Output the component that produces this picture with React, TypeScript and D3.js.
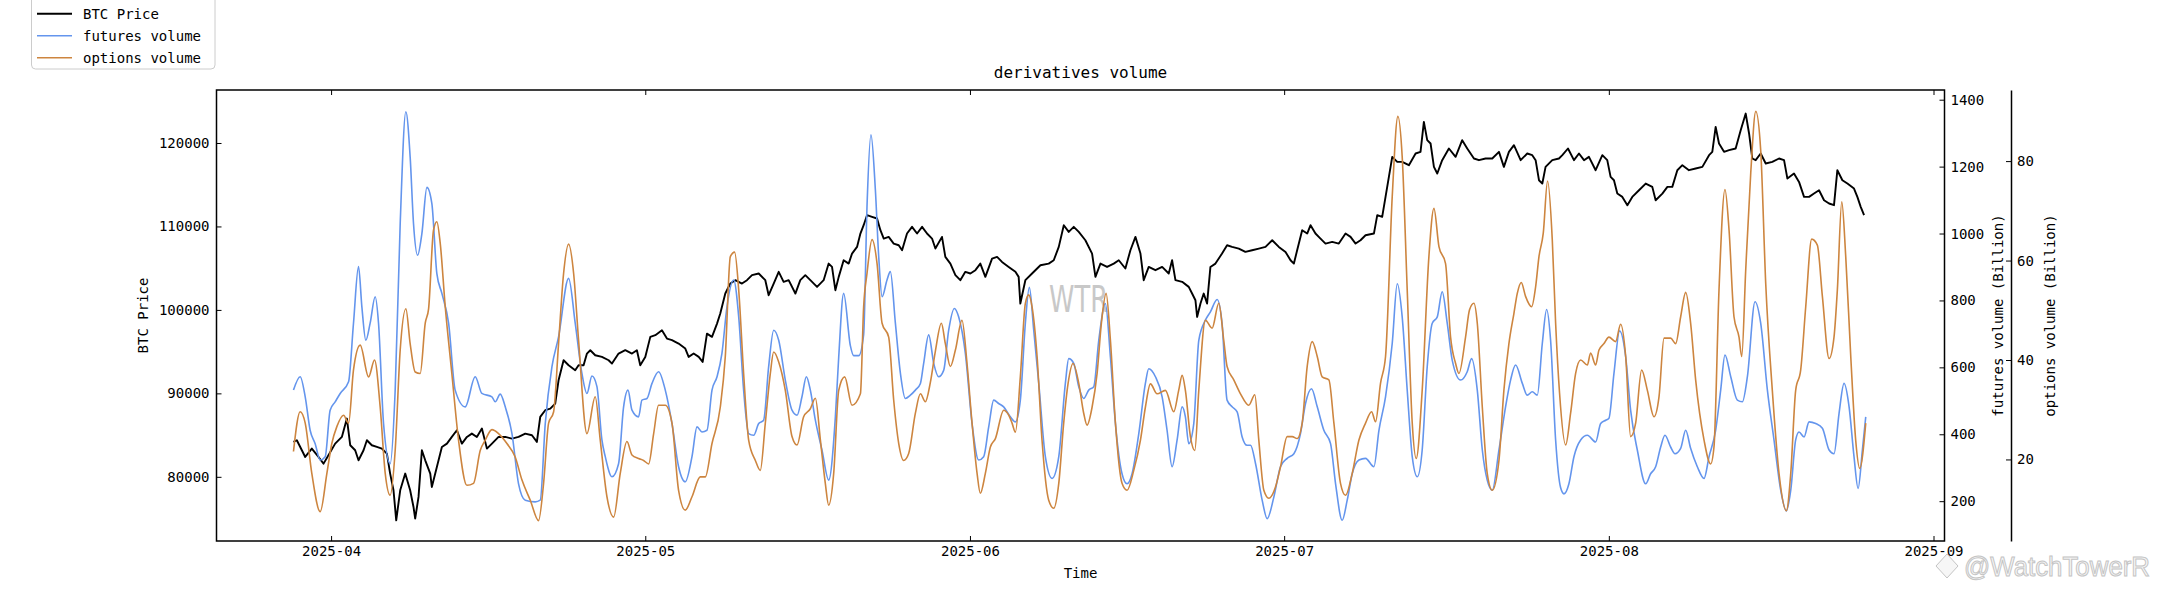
import { useEffect, useRef } from "react";
import * as d3 from "d3";

// every point is [days after 2025-04-01 00:00, value]
const baseDate = new Date(2025, 3, 1);

const btcPrice: [number, number][] = [
  [-3.59, 84180], [-3.27, 84380], [-2.79, 83180], [-2.47, 82380], [-1.84, 83380], [-1.2, 82380],
  [-0.72, 81580], [-0.25, 82580], [0.39, 83980], [1.03, 84780], [1.51, 86980], [1.83, 83780],
  [2.3, 83180], [2.62, 81980], [3.1, 83180], [3.42, 84380], [3.89, 83780], [4.37, 83580],
  [4.85, 83380], [5.33, 82780], [5.64, 80390], [5.96, 78390], [6.22, 74790], [6.6, 78390],
  [7.08, 80390], [7.55, 78390], [7.87, 76390], [8.03, 74990], [8.35, 77590], [8.67, 83180],
  [8.99, 81980], [9.47, 80390], [9.62, 78790], [10.1, 81180], [10.58, 83580], [11.06, 83980],
  [11.53, 84780], [12.01, 85580], [12.49, 83980], [12.97, 84780], [13.44, 85180], [13.92, 84780],
  [14.4, 85780], [14.88, 83380], [15.36, 83980], [15.99, 84780], [16.63, 84780], [17.27, 84580],
  [17.9, 84780], [18.54, 85180], [19.18, 84980], [19.65, 84180], [19.97, 87180], [20.45, 87980],
  [20.93, 88180], [21.4, 88780], [21.72, 91570], [22.2, 93970], [22.68, 93370], [23.31, 92770],
  [23.63, 93370], [24.11, 93370], [24.43, 94770], [24.75, 95170], [25.22, 94570], [25.86, 94370],
  [26.5, 93970], [26.82, 93570], [27.45, 94770], [28.09, 95170], [28.73, 94770], [29.2, 95170],
  [29.52, 93370], [30.0, 94370], [30.48, 96770], [30.96, 96970], [31.59, 97560], [32.07, 96570],
  [32.55, 96370], [33.18, 95970], [33.82, 95370], [34.14, 94370], [34.62, 94770], [35.1, 94370],
  [35.48, 93770], [35.89, 97160], [36.37, 96770], [36.85, 98360], [37.16, 99560], [37.64, 101960],
  [38.12, 103160], [38.6, 103560], [39.23, 103160], [39.71, 103560], [40.19, 104160], [40.83, 104360],
  [41.46, 103560], [41.78, 101760], [42.26, 103160], [42.74, 104560], [43.21, 103360], [43.69, 103560],
  [44.33, 101960], [44.8, 103560], [45.28, 104160], [45.76, 103560], [46.4, 102760], [47.03, 103560],
  [47.51, 105550], [47.83, 105150], [48.15, 102360], [48.47, 103960], [48.94, 105950], [49.42, 105550],
  [49.74, 106750], [50.22, 107550], [50.54, 109150], [50.85, 110150], [51.17, 111350], [51.65, 111150],
  [52.13, 110950], [52.45, 109550], [52.77, 108550], [53.24, 108750], [53.72, 107950], [54.2, 107750],
  [54.52, 107150], [54.99, 109150], [55.47, 109950], [55.95, 109150], [56.43, 109950], [56.9, 109150],
  [57.38, 108550], [57.7, 107350], [58.33, 108750], [58.65, 106350], [59.13, 105550], [59.61, 104160],
  [60.08, 103560], [60.56, 104560], [61.04, 104360], [61.52, 104760], [61.99, 105550], [62.47, 103960],
  [63.11, 106150], [63.59, 106350], [64.06, 105750], [64.7, 105150], [65.34, 104560], [65.65, 103960],
  [65.81, 100760], [66.29, 103560], [66.93, 104360], [67.73, 105350], [68.52, 105550], [69.0, 105950],
  [69.48, 107550], [69.96, 110150], [70.43, 109350], [70.91, 109950], [71.39, 109350], [72.02, 108350],
  [72.66, 106750], [72.98, 103960], [73.46, 105550], [74.09, 105150], [74.73, 105550], [75.21, 105950],
  [75.84, 104960], [76.32, 107150], [76.8, 108750], [77.28, 106750], [77.59, 103560], [78.07, 105150],
  [78.71, 104760], [79.35, 105150], [79.98, 104360], [80.3, 105950], [80.62, 103560], [81.26, 103360],
  [81.89, 102760], [82.21, 101960], [82.53, 101160], [82.69, 99160], [83.01, 100760], [83.32, 101960],
  [83.64, 100760], [83.96, 105150], [84.44, 105550], [85.07, 106750], [85.55, 107750], [86.03, 107550],
  [86.67, 107350], [87.3, 106950], [87.94, 107150], [88.58, 107350], [89.22, 107550], [89.86, 108350],
  [90.49, 107550], [91.13, 106950], [91.61, 105950], [91.93, 105550], [92.24, 107150], [92.72, 109550],
  [93.2, 109150], [93.52, 110150], [93.99, 109150], [94.47, 108550], [94.95, 107950], [95.59, 108150],
  [96.22, 107950], [96.86, 109150], [97.34, 108750], [97.82, 107950], [98.29, 108350], [98.77, 108950],
  [99.57, 109150], [99.89, 111350], [100.36, 111150], [100.68, 113540], [101.0, 115940], [101.32, 118340],
  [101.8, 117740], [102.27, 117740], [102.91, 117340], [103.55, 118740], [104.02, 118940], [104.34, 122530],
  [104.66, 120340], [104.98, 119940], [105.3, 117140], [105.62, 116340], [106.09, 117940], [106.73, 119340],
  [107.37, 118340], [108.0, 120340], [108.48, 119340], [109.12, 118140], [109.6, 117940], [110.23, 118140],
  [110.87, 118140], [111.51, 118940], [111.98, 117140], [112.46, 118940], [112.94, 119740], [113.58, 117940],
  [114.21, 118740], [114.69, 118540], [115.01, 117940], [115.33, 115540], [115.65, 115140], [115.96, 117140],
  [116.6, 117940], [117.24, 118140], [117.56, 118540], [118.1, 119340], [118.67, 117940], [119.15, 118740],
  [119.63, 117940], [120.1, 118340], [120.74, 116740], [121.38, 118540], [121.85, 117940], [122.17, 115940],
  [122.49, 115540], [122.81, 113940], [123.29, 113540], [123.77, 112550], [124.24, 113540], [124.88, 114340],
  [125.52, 115140], [126.15, 114740], [126.47, 113140], [127.11, 113940], [127.59, 114740], [128.06, 114740],
  [128.54, 116740], [129.02, 117340], [129.65, 116740], [130.29, 116940], [130.93, 117140], [131.57, 118540],
  [131.88, 118940], [132.2, 121930], [132.52, 119940], [133.0, 118940], [133.48, 119140], [134.11, 119340],
  [134.59, 121530], [135.07, 123530], [135.39, 121140], [135.7, 118140], [136.02, 117940], [136.5, 118740],
  [136.98, 117540], [137.61, 117740], [138.25, 118140], [138.73, 117940], [139.05, 115740], [139.68, 116340],
  [140.16, 115340], [140.64, 113540], [141.12, 113540], [141.59, 113940], [142.07, 114340], [142.55, 113140],
  [143.03, 112750], [143.5, 112550], [143.82, 116740], [144.3, 115540], [144.78, 115140], [145.41, 114540],
  [145.73, 113540], [146.05, 112350], [146.37, 111350],
];

const futuresVolume: [number, number][] = [
  [-3.59, 532], [-2.95, 572], [-2.47, 512], [-2.0, 412], [-1.52, 372], [-1.04, 323], [-0.56, 333],
  [-0.09, 472], [0.39, 497], [0.87, 522], [1.67, 557], [2.14, 732], [2.62, 901], [2.94, 781],
  [3.32, 681], [3.73, 732], [4.21, 811], [4.53, 732], [5.01, 432], [5.64, 312], [6.12, 532],
  [6.6, 1030], [7.14, 1364], [7.55, 1229], [7.87, 1030], [8.26, 935], [8.67, 1000], [9.15, 1138],
  [9.62, 1090], [10.1, 880], [10.58, 821], [11.22, 732], [11.85, 532], [12.81, 482], [13.76, 572],
  [14.4, 522], [15.36, 512], [15.67, 497], [16.15, 520], [16.63, 482], [17.27, 402], [17.9, 252],
  [18.54, 203], [19.49, 198], [19.97, 203], [20.45, 432], [21.09, 602], [21.72, 691], [22.68, 866],
  [23.31, 732], [23.95, 582], [24.43, 522], [24.91, 574], [25.38, 543], [25.86, 383], [26.18, 333],
  [26.82, 273], [27.45, 312], [27.93, 482], [28.35, 532], [28.73, 472], [29.36, 452], [29.68, 502],
  [30.16, 507], [30.64, 552], [31.27, 587], [31.91, 532], [32.55, 432], [33.18, 303], [33.82, 258],
  [34.46, 333], [34.94, 422], [35.41, 407], [35.89, 412], [36.37, 532], [36.85, 572], [37.32, 642],
  [37.8, 781], [38.44, 861], [38.92, 751], [39.39, 532], [39.87, 402], [40.35, 397], [40.83, 432],
  [41.3, 442], [41.78, 602], [42.26, 711], [42.74, 681], [43.37, 562], [44.01, 472], [44.49, 457],
  [44.96, 512], [45.38, 572], [45.76, 532], [46.24, 442], [46.87, 353], [47.51, 263], [48.15, 452],
  [48.47, 631], [48.94, 821], [49.58, 665], [49.9, 635], [50.38, 635], [50.85, 698], [51.17, 1080],
  [51.55, 1295], [51.97, 1130], [52.29, 930], [52.61, 811], [53.08, 861], [53.4, 886], [53.88, 732],
  [54.36, 582], [54.83, 507], [55.31, 517], [55.79, 532], [56.27, 552], [56.58, 612], [57.06, 697],
  [57.54, 612], [58.01, 572], [58.49, 591], [58.97, 711], [59.51, 776], [59.92, 751], [60.56, 642],
  [61.2, 432], [61.83, 323], [62.31, 333], [62.79, 422], [63.27, 502], [63.74, 492], [64.22, 482],
  [64.86, 452], [65.34, 437], [65.81, 502], [66.29, 732], [66.67, 839], [67.09, 711], [67.57, 552],
  [68.2, 333], [68.84, 268], [69.48, 333], [70.11, 552], [70.43, 626], [70.91, 612], [71.39, 542],
  [71.86, 507], [72.34, 532], [72.82, 542], [73.3, 681], [73.93, 791], [74.41, 631], [74.89, 432],
  [75.52, 282], [76.0, 252], [76.48, 282], [77.12, 402], [77.75, 552], [78.07, 596], [78.71, 572],
  [79.35, 512], [79.82, 412], [80.3, 303], [80.78, 383], [81.26, 482], [81.57, 452], [81.89, 372],
  [82.37, 432], [82.85, 681], [83.48, 741], [83.96, 766], [84.6, 803], [85.07, 732], [85.55, 502],
  [86.03, 482], [86.51, 467], [86.99, 392], [87.46, 367], [87.79, 367], [88.27, 312], [88.9, 203],
  [89.38, 148], [90.02, 213], [90.65, 303], [91.29, 328], [91.93, 342], [92.56, 402], [93.04, 492],
  [93.61, 536], [94.16, 482], [94.79, 412], [95.43, 372], [95.91, 252], [96.54, 143], [97.02, 203],
  [97.5, 282], [98.14, 323], [98.77, 328], [99.57, 303], [100.05, 412], [100.68, 512], [101.32, 672],
  [101.8, 850], [102.27, 751], [102.75, 532], [103.23, 333], [103.71, 273], [104.18, 353], [104.66, 602],
  [105.14, 732], [105.62, 751], [106.09, 826], [106.57, 732], [107.05, 621], [107.85, 562], [108.48, 587],
  [108.9, 626], [109.44, 532], [109.92, 353], [110.39, 263], [110.87, 233], [111.51, 353], [112.14, 482],
  [112.62, 562], [113.1, 607], [113.74, 552], [114.21, 517], [114.69, 527], [115.17, 517], [115.65, 672],
  [116.06, 773], [116.44, 681], [116.92, 383], [117.4, 240], [117.72, 222], [118.19, 252], [118.67, 333],
  [119.31, 383], [119.95, 397], [120.74, 377], [121.22, 432], [121.7, 442], [122.01, 448], [122.49, 582],
  [123.03, 709], [123.61, 631], [124.08, 472], [124.72, 353], [125.52, 252], [125.99, 282], [126.47, 303],
  [126.95, 362], [127.36, 397], [127.9, 362], [128.32, 342], [128.86, 358], [129.34, 412], [129.81, 358],
  [130.45, 303], [131.09, 268], [131.57, 333], [132.2, 412], [132.68, 532], [133.09, 637], [133.64, 572],
  [134.27, 502], [134.75, 497], [135.23, 572], [135.96, 796], [136.5, 732], [137.14, 532], [137.77, 383],
  [138.41, 233], [138.95, 171], [139.37, 233], [139.84, 383], [140.16, 407], [140.64, 392], [141.12, 437],
  [141.75, 432], [142.39, 418], [143.03, 353], [143.5, 342], [143.98, 462], [144.46, 552], [144.94, 482],
  [145.41, 333], [145.8, 238], [146.21, 353], [146.53, 452],
];

const optionsVolume: [number, number][] = [
  [-3.59, 21.6], [-2.95, 29.6], [-2.47, 27.3], [-1.84, 17.2], [-1.04, 9.5], [-0.4, 17.2], [0.07, 23.2],
  [0.55, 26.6], [1.19, 28.9], [1.67, 27.3], [2.14, 38.0], [2.78, 43.0], [3.58, 36.6], [4.15, 40.0],
  [4.69, 30.5], [5.17, 17.2], [5.64, 12.8], [6.12, 21.8], [6.6, 42.0], [7.14, 50.3], [7.55, 43.3],
  [8.03, 37.6], [8.51, 37.3], [8.99, 47.4], [9.31, 50.3], [9.78, 66.1], [10.1, 67.8], [10.42, 63.5],
  [10.9, 50.7], [11.53, 37.3], [12.17, 23.9], [12.97, 14.8], [13.6, 15.2], [14.24, 21.8], [14.72, 23.9],
  [15.36, 26.0], [15.99, 25.2], [16.79, 23.2], [17.58, 20.5], [18.22, 15.9], [19.02, 11.8], [19.81, 7.7],
  [20.29, 15.2], [20.77, 27.3], [21.25, 29.6], [21.72, 43.3], [22.2, 57.4], [22.68, 63.3], [23.16, 57.4],
  [23.63, 44.0], [24.43, 25.2], [25.22, 32.6], [25.7, 23.9], [26.34, 12.5], [26.98, 8.4], [27.61, 17.2],
  [28.25, 23.6], [28.73, 20.9], [29.36, 20.2], [29.84, 19.8], [30.32, 19.1], [30.8, 25.2], [31.27, 30.9],
  [31.91, 30.9], [32.55, 27.3], [33.18, 13.8], [33.82, 9.8], [34.46, 12.5], [35.25, 16.5], [35.73, 16.5],
  [36.37, 23.2], [37.16, 30.5], [37.64, 40.7], [38.12, 60.8], [38.53, 61.7], [38.92, 54.1], [39.39, 37.3],
  [39.87, 23.9], [40.51, 19.8], [40.98, 17.8], [41.46, 27.3], [41.94, 37.3], [42.26, 41.6], [42.74, 39.6],
  [43.37, 33.9], [44.01, 24.6], [44.49, 22.9], [45.12, 28.6], [45.76, 30.2], [46.24, 32.3], [46.72, 23.9],
  [47.19, 15.2], [47.51, 10.8], [47.99, 17.2], [48.47, 33.9], [49.04, 36.6], [49.74, 30.9], [50.54, 33.2],
  [50.85, 50.7], [51.17, 57.4], [51.65, 64.2], [52.13, 59.4], [52.61, 47.4], [53.24, 44.6], [53.72, 31.9],
  [54.2, 23.2], [54.67, 19.8], [55.15, 21.2], [55.79, 29.3], [56.27, 33.2], [56.74, 31.6], [57.22, 35.5],
  [57.7, 41.8], [58.27, 47.4], [58.65, 43.3], [59.13, 38.7], [59.61, 42.0], [60.24, 48.0], [60.72, 39.3],
  [61.2, 27.3], [61.68, 17.2], [61.99, 13.2], [62.47, 17.2], [62.95, 22.5], [63.43, 24.2], [64.22, 29.9],
  [64.7, 28.9], [65.02, 27.3], [65.34, 25.5], [65.81, 36.6], [66.29, 51.4], [66.61, 53.1], [66.93, 50.7],
  [67.41, 40.7], [67.88, 23.9], [68.52, 11.8], [69.0, 10.2], [69.48, 15.2], [69.95, 27.3], [70.37, 35.3],
  [70.84, 39.3], [71.39, 35.3], [71.86, 29.3], [72.18, 26.9], [72.66, 30.5], [73.14, 37.3], [73.55, 47.4],
  [74.0, 53.4], [74.41, 44.0], [74.89, 27.3], [75.52, 15.2], [76.0, 13.8], [76.64, 17.8], [77.28, 23.9],
  [77.75, 30.5], [78.23, 35.2], [78.87, 33.2], [79.66, 33.9], [80.46, 29.6], [80.93, 33.9], [81.26, 36.9],
  [81.57, 33.9], [82.05, 24.6], [82.47, 21.8], [82.85, 33.9], [83.48, 48.0], [84.12, 46.4], [84.76, 51.4],
  [85.23, 44.0], [85.55, 38.7], [86.19, 36.0], [86.83, 33.2], [87.62, 30.9], [88.2, 33.0], [88.58, 23.9],
  [89.06, 13.8], [89.54, 12.2], [90.18, 14.5], [90.65, 18.5], [91.29, 24.6], [91.77, 24.6], [92.25, 24.2],
  [92.72, 27.3], [93.2, 38.7], [93.68, 43.7], [94.16, 40.7], [94.63, 36.6], [95.27, 36.0], [95.75, 27.3],
  [96.38, 15.2], [96.86, 12.8], [97.5, 17.2], [98.14, 23.9], [98.77, 27.3], [99.35, 29.6], [99.73, 27.6],
  [100.2, 35.3], [100.68, 40.7], [101.32, 72.9], [101.86, 89.0], [102.27, 80.9], [102.75, 54.1],
  [103.23, 27.3], [103.61, 20.2], [104.18, 33.9], [104.82, 60.8], [105.3, 70.5], [105.78, 62.8],
  [106.41, 59.4], [106.89, 44.6], [107.37, 39.3], [107.69, 37.3], [108.32, 44.6], [108.7, 50.1],
  [109.12, 51.4], [109.44, 47.4], [109.92, 30.5], [110.39, 17.2], [110.87, 13.8], [111.51, 19.8],
  [111.98, 33.9], [112.46, 43.3], [112.94, 49.4], [113.26, 53.4], [113.64, 55.6], [114.05, 52.8],
  [114.63, 50.7], [115.01, 54.7], [115.33, 60.8], [115.74, 65.5], [116.15, 76.0], [116.6, 64.2],
  [116.92, 47.4], [117.3, 33.2], [117.88, 22.9], [118.35, 29.3], [118.83, 37.3], [119.31, 40.0],
  [119.95, 39.0], [120.26, 41.4], [120.74, 39.0], [121.06, 42.0], [121.54, 43.3], [122.01, 44.6],
  [122.65, 43.7], [123.13, 47.2], [123.61, 40.7], [124.08, 24.6], [124.56, 27.3], [125.13, 38.0],
  [125.68, 33.9], [126.31, 28.6], [126.79, 32.6], [127.27, 44.4], [127.9, 44.4], [128.38, 43.3],
  [128.86, 48.7], [129.34, 53.6], [129.81, 47.4], [130.29, 36.0], [131.09, 23.9], [131.72, 19.1],
  [132.04, 22.5], [132.52, 54.1], [133.09, 74.3], [133.48, 66.1], [133.95, 48.7], [134.43, 44.6],
  [134.69, 40.7], [135.07, 58.1], [135.55, 77.6], [136.03, 90.0], [136.5, 82.2], [136.98, 55.4],
  [137.61, 33.9], [138.25, 17.2], [138.95, 9.7], [139.37, 17.2], [139.84, 33.9], [140.32, 38.0],
  [140.8, 50.7], [141.37, 64.3], [141.91, 63.1], [142.39, 52.8], [143.03, 40.3], [143.5, 44.6],
  [143.82, 54.1], [144.24, 71.8], [144.62, 60.8], [145.1, 40.7], [145.57, 23.9], [145.96, 18.2],
  [146.53, 27.3],
];

const btcTicks = [80000, 90000, 100000, 110000, 120000];
const futuresTicks = [200, 400, 600, 800, 1000, 1200, 1400];
const optionsTicks = [20, 40, 60, 80];

const seriesNames = ["BTC Price", "futures volume", "options volume"];
const seriesColors = ["#000000", "#6495ed", "#cd853f"];

const FONT = "'DejaVu Sans Mono', monospace";

const App = () => {
  const chart = useRef<SVGSVGElement>(null);

  useEffect(() => {
    document.body.style.margin = "0";
    const svg = d3.select(chart.current);
    svg.selectAll("*").remove();

    const left = 216.5, right = 1944.5, top = 90, bottom = 541;
    const toDate = (d: number) => new Date(baseDate.getTime() + d * 864e5);

    const x = d3.scaleTime().domain([toDate(-10.94), toDate(154.05)]).range([left, right]);
    const yBtc = d3.scaleLinear().domain([72310, 126350]).range([bottom, top]);
    const yFut = d3.scaleLinear().domain([81, 1429]).range([bottom, top]);
    const yOpt = d3.scaleLinear().domain([3.6, 94.3]).range([bottom, top]);

    // watermark under the lines
    svg
      .append("text")
      .attr("x", 1049)
      .attr("y", 312)
      .attr("textLength", 59)
      .attr("lengthAdjust", "spacingAndGlyphs")
      .attr("font-family", "'DejaVu Sans', sans-serif")
      .attr("font-size", 38)
      .attr("fill", "#c8c8c8")
      .text("WTR");

    const lineOf = (y: d3.ScaleLinear<number, number>, curve: d3.CurveFactory) =>
      d3
        .line<[number, number]>()
        .x((d) => x(toDate(d[0])))
        .y((d) => y(d[1]))
        .curve(curve);

    const series: [[number, number][], d3.ScaleLinear<number, number>, d3.CurveFactory, number][] = [
      [btcPrice, yBtc, d3.curveLinear, 1.9],
      [futuresVolume, yFut, d3.curveMonotoneX, 1.6],
      [optionsVolume, yOpt, d3.curveMonotoneX, 1.6],
    ];
    series.forEach(([data, y, curve, w], i) => {
      svg
        .append("path")
        .datum(data)
        .attr("d", lineOf(y, curve))
        .attr("fill", "none")
        .attr("stroke", seriesColors[i])
        .attr("stroke-width", w)
        .attr("stroke-linejoin", "round");
    });

    // frame
    svg
      .append("rect")
      .attr("x", left)
      .attr("y", top)
      .attr("width", right - left)
      .attr("height", bottom - top)
      .attr("fill", "none")
      .attr("stroke", "#000")
      .attr("stroke-width", 1.5);

    const styleAxis = (g: any) => {
      g.attr("font-family", FONT).attr("font-size", 14);
      g.select(".domain").attr("stroke", "#000").attr("stroke-width", 1.5);
      g.selectAll(".tick line").attr("stroke", "#000").attr("stroke-width", 1);
      g.selectAll(".tick text").attr("fill", "#000");
    };

    svg
      .append("g")
      .attr("transform", `translate(0,${bottom})`)
      .call(
        d3
          .axisBottom(x)
          .ticks(d3.timeMonth.every(1))
          .tickFormat(d3.timeFormat("%Y-%m") as any)
          .tickSizeInner(-5)
          .tickSizeOuter(0)
          .tickPadding(5)
      )
      .call(styleAxis)
      .call((g: any) => g.select(".domain").remove());

    svg
      .append("g")
      .attr("transform", `translate(0,${top})`)
      .call(d3.axisTop(x).ticks(d3.timeMonth.every(1)).tickFormat(() => "").tickSizeInner(-5).tickSizeOuter(0))
      .call(styleAxis)
      .call((g: any) => g.select(".domain").remove());

    svg
      .append("g")
      .attr("transform", `translate(${left},0)`)
      .call(d3.axisLeft(yBtc).tickValues(btcTicks).tickFormat(d3.format("d")).tickSizeInner(-5).tickSizeOuter(0).tickPadding(7))
      .call(styleAxis)
      .call((g: any) => g.select(".domain").remove());

    svg
      .append("g")
      .attr("transform", `translate(${right},0)`)
      .call(d3.axisRight(yFut).tickValues(futuresTicks).tickFormat(d3.format("d")).tickSizeInner(-5).tickSizeOuter(0).tickPadding(6))
      .call(styleAxis)
      .call((g: any) => g.select(".domain").remove());

    svg
      .append("g")
      .attr("transform", `translate(2011,0)`)
      .call(d3.axisRight(yOpt).tickValues(optionsTicks).tickFormat(d3.format("d")).tickSizeInner(-5).tickSizeOuter(0).tickPadding(6))
      .call(styleAxis);

    const label = (txt: string, xx: number, yy: number, rotate: boolean, size = 14) =>
      svg
        .append("text")
        .attr("transform", `translate(${xx},${yy})${rotate ? " rotate(-90)" : ""}`)
        .attr("text-anchor", "middle")
        .attr("dy", "0.35em")
        .attr("font-family", FONT)
        .attr("font-size", size)
        .attr("fill", "#000")
        .text(txt);

    label("derivatives volume", (left + right) / 2, 72, false, 16);
    label("Time", (left + right) / 2, 573, false);
    label("BTC Price", 143, (top + bottom) / 2, true);
    label("futures volume (Billion)", 1998, (top + bottom) / 2, true);
    label("options volume (Billion)", 2050, (top + bottom) / 2, true);

    // legend
    const legend = svg.append("g");
    legend
      .append("rect")
      .attr("x", 31.5)
      .attr("y", -6)
      .attr("width", 183.5)
      .attr("height", 75)
      .attr("rx", 4)
      .attr("fill", "#fff")
      .attr("fill-opacity", 0.8)
      .attr("stroke", "#cccccc");
    seriesNames.forEach((name, i) => {
      const yy = 13.8 + i * 22;
      legend
        .append("line")
        .attr("x1", 37)
        .attr("x2", 72)
        .attr("y1", yy)
        .attr("y2", yy)
        .attr("stroke", seriesColors[i])
        .attr("stroke-width", i === 0 ? 1.9 : 1.6);
      legend
        .append("text")
        .attr("x", 83)
        .attr("y", yy)
        .attr("dy", "0.35em")
        .attr("font-family", FONT)
        .attr("font-size", 14)
        .attr("fill", "#000")
        .text(name);
    });

    // platform watermark, bottom right
    const mark = svg.append("g").attr("fill", "#f6f6f6").attr("stroke", "#c4c4c4").attr("stroke-width", 1);
    mark.append("path").attr("d", "M1947,554 L1958,566 L1947,578 L1936,566 Z");
    mark
      .append("text")
      .attr("x", 1964)
      .attr("y", 576)
      .attr("textLength", 186)
      .attr("lengthAdjust", "spacingAndGlyphs")
      .attr("font-family", "'Liberation Sans', sans-serif")
      .attr("font-size", 27)
      .text("@WatchTowerR");
  }, []);

  return <svg ref={chart} width={2160} height={600} style={{ display: "block" }}></svg>;
};

export default App;
